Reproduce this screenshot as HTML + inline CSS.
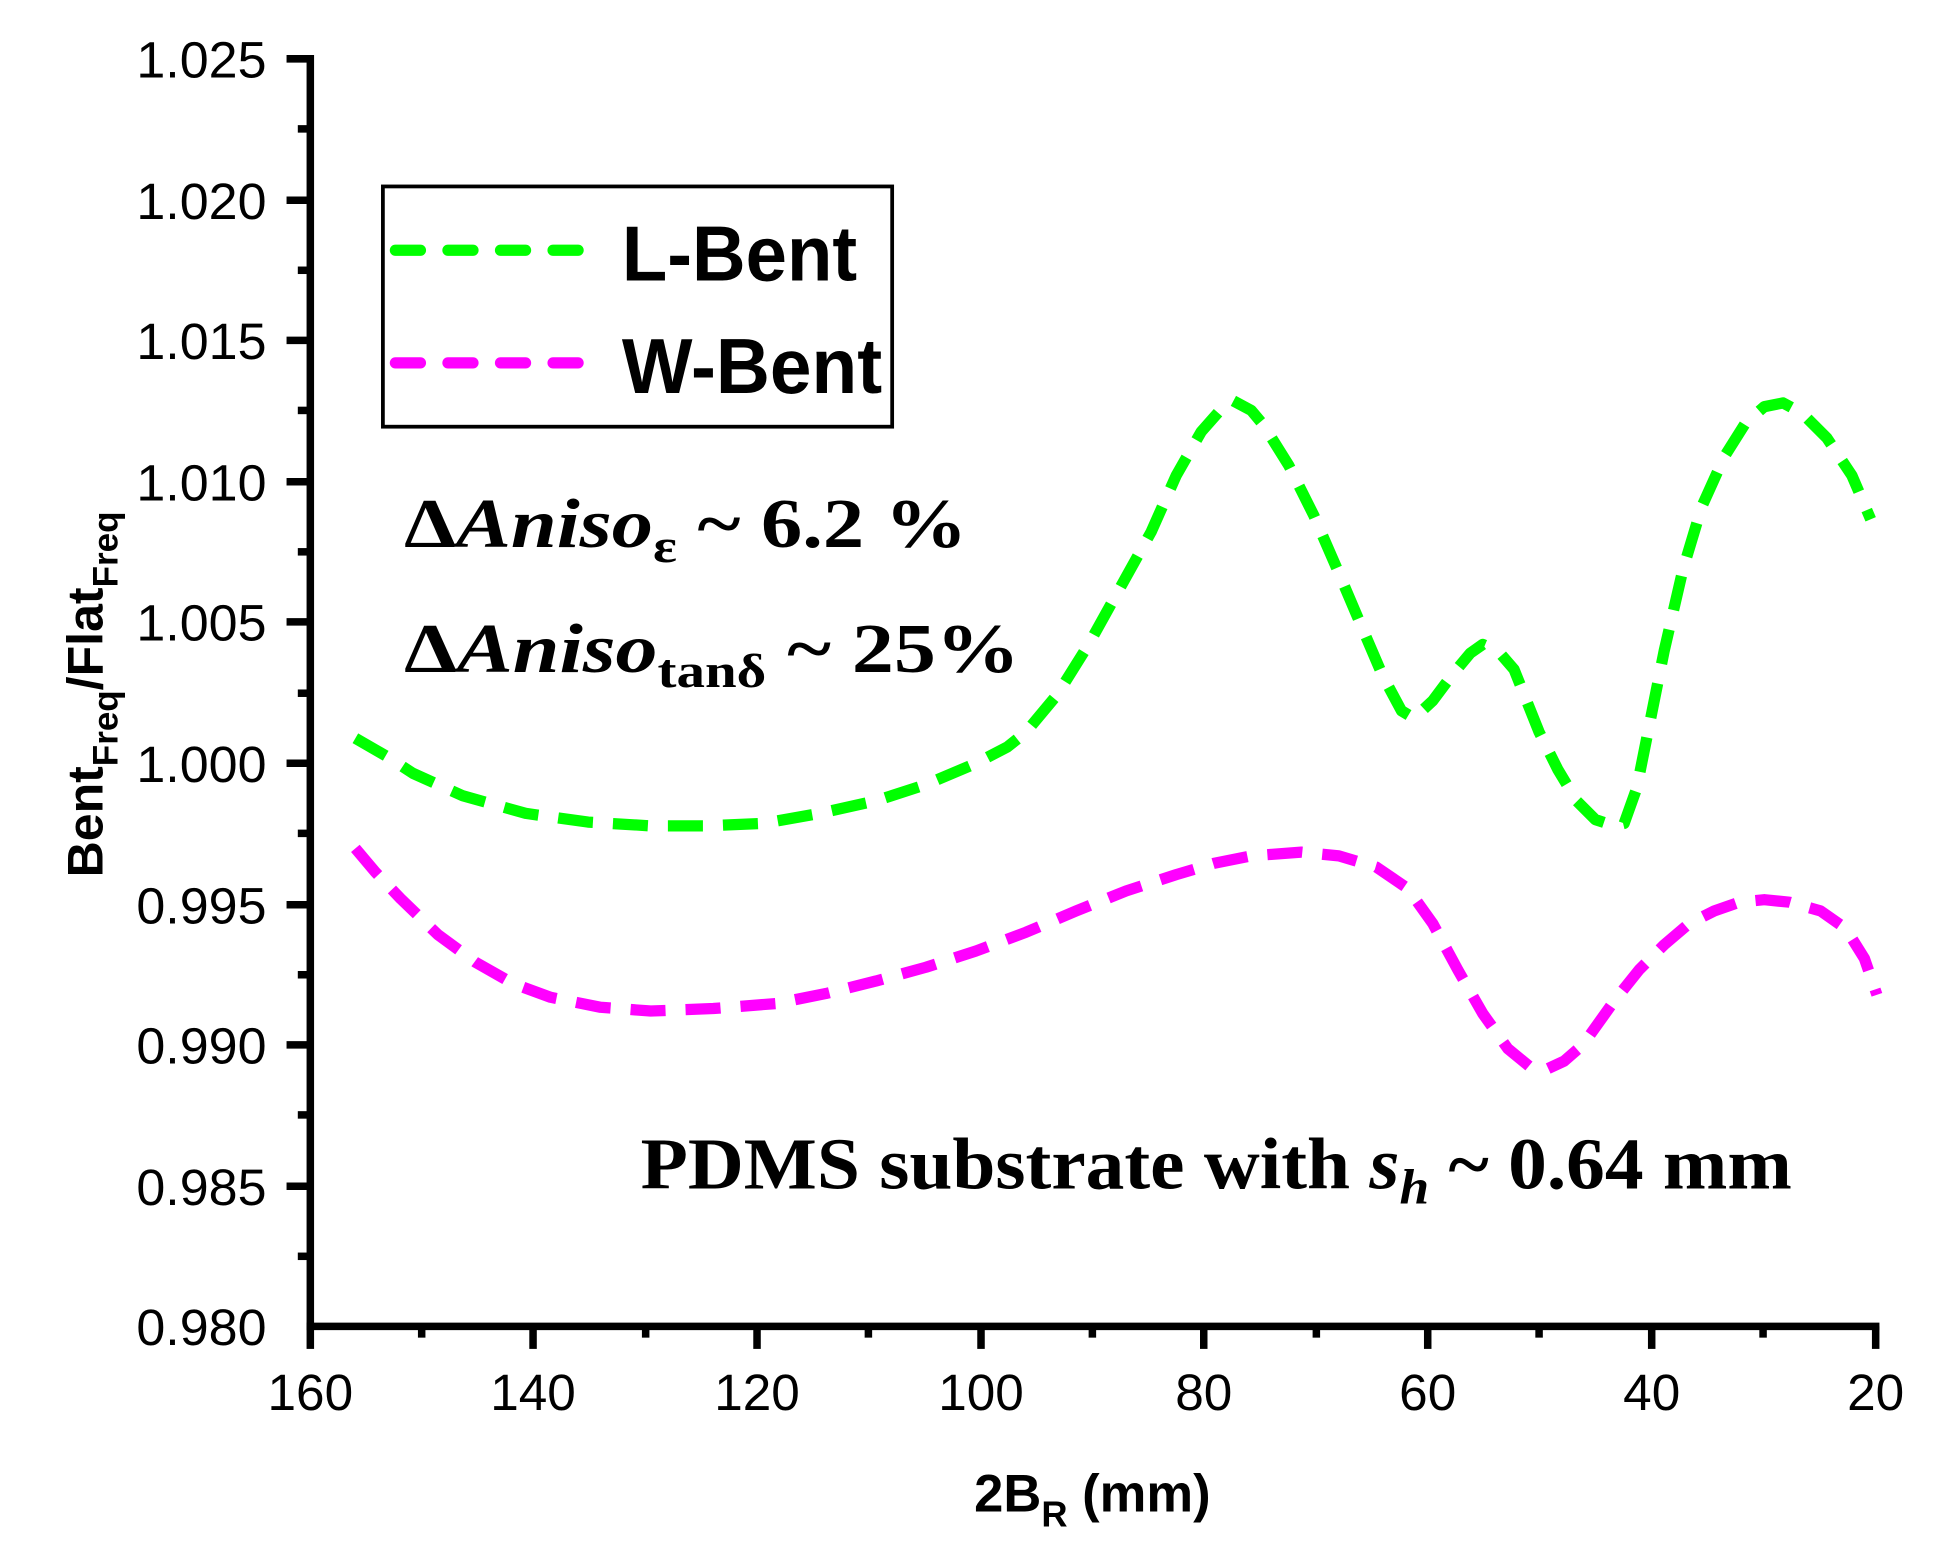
<!DOCTYPE html>
<html><head><meta charset="utf-8"><style>html,body{margin:0;padding:0;background:#fff;}svg{display:block}</style></head>
<body>
<svg width="1942" height="1561" viewBox="0 0 1552 1247.5" preserveAspectRatio="none" xmlns="http://www.w3.org/2000/svg">
<rect width="1552" height="1248" fill="#fff"/>
<g stroke="#000" stroke-width="6" fill="none">
<line x1="248" y1="44" x2="248" y2="1063"/>
<line x1="245" y1="1060" x2="1502" y2="1060"/>
</g>
<g stroke="#000" stroke-width="6">
<line x1="229" y1="47" x2="248" y2="47"/><line x1="229" y1="160" x2="248" y2="160"/><line x1="229" y1="272" x2="248" y2="272"/><line x1="229" y1="385" x2="248" y2="385"/><line x1="229" y1="497" x2="248" y2="497"/><line x1="229" y1="610" x2="248" y2="610"/><line x1="229" y1="723" x2="248" y2="723"/><line x1="229" y1="835" x2="248" y2="835"/><line x1="229" y1="948" x2="248" y2="948"/>
<line x1="238" y1="103" x2="248" y2="103"/><line x1="238" y1="216" x2="248" y2="216"/><line x1="238" y1="328" x2="248" y2="328"/><line x1="238" y1="441" x2="248" y2="441"/><line x1="238" y1="554" x2="248" y2="554"/><line x1="238" y1="666" x2="248" y2="666"/><line x1="238" y1="779" x2="248" y2="779"/><line x1="238" y1="891" x2="248" y2="891"/><line x1="238" y1="1004" x2="248" y2="1004"/>
<line x1="248" y1="1060" x2="248" y2="1078"/><line x1="426" y1="1060" x2="426" y2="1078"/><line x1="605" y1="1060" x2="605" y2="1078"/><line x1="784" y1="1060" x2="784" y2="1078"/><line x1="962" y1="1060" x2="962" y2="1078"/><line x1="1141" y1="1060" x2="1141" y2="1078"/><line x1="1320" y1="1060" x2="1320" y2="1078"/><line x1="1499" y1="1060" x2="1499" y2="1078"/>
<line x1="337" y1="1060" x2="337" y2="1069"/><line x1="516" y1="1060" x2="516" y2="1069"/><line x1="694" y1="1060" x2="694" y2="1069"/><line x1="873" y1="1060" x2="873" y2="1069"/><line x1="1052" y1="1060" x2="1052" y2="1069"/><line x1="1230" y1="1060" x2="1230" y2="1069"/><line x1="1409" y1="1060" x2="1409" y2="1069"/>
</g>
<g font-family="Liberation Sans, Arial, sans-serif" font-size="41" fill="#000" text-anchor="end">
<text x="213" y="62" textLength="104" lengthAdjust="spacingAndGlyphs">1.025</text><text x="213" y="175" textLength="104" lengthAdjust="spacingAndGlyphs">1.020</text><text x="213" y="287" textLength="104" lengthAdjust="spacingAndGlyphs">1.015</text><text x="213" y="400" textLength="104" lengthAdjust="spacingAndGlyphs">1.010</text><text x="213" y="512" textLength="104" lengthAdjust="spacingAndGlyphs">1.005</text><text x="213" y="625" textLength="104" lengthAdjust="spacingAndGlyphs">1.000</text><text x="213" y="738" textLength="104" lengthAdjust="spacingAndGlyphs">0.995</text><text x="213" y="850" textLength="104" lengthAdjust="spacingAndGlyphs">0.990</text><text x="213" y="963" textLength="104" lengthAdjust="spacingAndGlyphs">0.985</text><text x="213" y="1075" textLength="104" lengthAdjust="spacingAndGlyphs">0.980</text>
</g>
<g font-family="Liberation Sans, Arial, sans-serif" font-size="41" fill="#000" text-anchor="middle">
<text x="248" y="1127">160</text><text x="426" y="1127">140</text><text x="605" y="1127">120</text><text x="784" y="1127">100</text><text x="962" y="1127">80</text><text x="1141" y="1127">60</text><text x="1320" y="1127">40</text><text x="1499" y="1127">20</text>
</g>
<text x="873" y="1208" font-family="Liberation Sans, Arial, sans-serif" font-size="42" font-weight="bold" text-anchor="middle">2B<tspan font-size="29" dy="12">R</tspan><tspan dy="-12"> (mm)</tspan></text>
<text transform="translate(82,555) rotate(-90)" font-family="Liberation Sans, Arial, sans-serif" font-size="40" font-weight="bold" text-anchor="middle">Bent<tspan font-size="28" dy="12">Freq</tspan><tspan dy="-12">/Flat</tspan><tspan font-size="28" dy="12">Freq</tspan></text>
<rect x="306" y="149" width="407" height="192" fill="none" stroke="#000" stroke-width="3"/>
<line x1="316" y1="200" x2="470" y2="200" stroke="#00ff00" stroke-width="9" stroke-linecap="round" stroke-dasharray="20,22"/>
<line x1="316" y1="290" x2="470" y2="290" stroke="#ff00ff" stroke-width="9" stroke-linecap="round" stroke-dasharray="20,22"/>
<g font-family="Liberation Sans, Arial, sans-serif" font-size="62" font-weight="bold">
<text x="497" y="224" textLength="188" lengthAdjust="spacingAndGlyphs">L-Bent</text>
<text x="497" y="314" textLength="208" lengthAdjust="spacingAndGlyphs">W-Bent</text>
</g>
<g font-family="Liberation Serif, serif" font-weight="bold" font-size="56" fill="#000">
<text x="323" y="437" textLength="450" lengthAdjust="spacingAndGlyphs">Δ<tspan font-style="italic">Aniso</tspan><tspan font-size="38" dy="12">ε</tspan><tspan dy="-12"> ~ 6.2 %</tspan></text>
<text x="323" y="537" textLength="492" lengthAdjust="spacingAndGlyphs">Δ<tspan font-style="italic">Aniso</tspan><tspan font-size="38" dy="12">tanδ</tspan><tspan dy="-12"> ~ 25%</tspan></text>
<text x="512" y="950" font-size="58" textLength="920" lengthAdjust="spacingAndGlyphs">PDMS substrate with <tspan font-style="italic">s</tspan><tspan font-style="italic" font-size="40" dy="12">h</tspan><tspan dy="-12"> ~ 0.64 mm</tspan></text>
</g>
<polyline fill="none" stroke="#00ff00" stroke-width="9" stroke-dasharray="28,16" stroke-linejoin="round" points="284,590 310,605 330,618 370,636 420,650 470,657 520,660 565,660 610,658 655,650 700,640 740,627 780,610 805,597 820,585 845,555 870,515 895,470 920,425 940,380 960,345 975,328 985,320 1000,328 1010,340 1030,372 1050,412 1070,458 1090,505 1105,540 1120,568 1130,574 1145,560 1160,540 1175,522 1185,515 1197,520 1210,535 1230,585 1245,615 1260,640 1275,655 1290,660 1298,658 1308,630 1318,580 1330,520 1345,455 1360,405 1378,365 1395,338 1410,325 1425,322 1440,330 1460,350 1480,380 1495,415"/>
<polyline fill="none" stroke="#ff00ff" stroke-width="9" stroke-dasharray="28,16" stroke-linejoin="round" points="284,678 300,697 320,718 350,747 380,769 410,786 440,797 480,805 520,808 570,806 620,802 660,794 700,784 740,773 780,760 820,745 860,728 900,712 940,699 970,690 1000,684 1040,681 1070,684 1100,693 1125,710 1145,738 1165,775 1185,810 1205,838 1222,852 1235,855 1250,848 1265,835 1290,800 1310,775 1330,755 1350,738 1370,728 1390,721 1410,719 1430,721 1455,728 1475,742 1490,766 1500,795"/>
</svg>
</body></html>
